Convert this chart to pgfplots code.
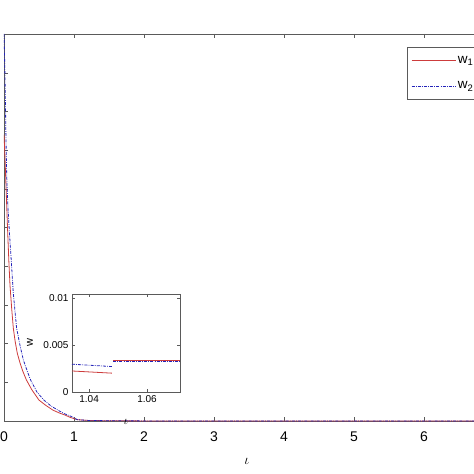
\documentclass[border=0pt]{standalone}
\usepackage{pgfplots}
\pgfplotsset{compat=1.18}
\usepackage{fontspec}
\setmainfont{Liberation Sans}
\definecolor{wred}{RGB}{205,60,60}
\definecolor{wblue}{RGB}{35,35,185}
\definecolor{axgray}{RGB}{90,90,90}
\begin{document}
\begin{tikzpicture}[x=1pt,y=1pt]
\useasboundingbox (0,0) rectangle (474,474);
\clip (0,0) rectangle (474,474);
\begin{axis}[
  at={(4pt,53pt)}, anchor=south west,
  scale only axis, width=490pt, height=387pt,
  xmin=0, xmax=7, ymin=0, ymax=1,
  xtick={0,1,2,3,4,5,6,7},
  xticklabels={0,1,2,3,4,5,6,{}},
  ytick={0,0.1,0.2,0.3,0.4,0.5,0.6,0.7,0.8,0.9,1},
  yticklabels={},
  tick align=inside, major tick length=4pt,
  axis line style={axgray}, tick style={axgray},
  /pgf/number format/assume math mode=true,
  tick label style={font=\fontsize{14}{16}\selectfont},
  xticklabel style={anchor=north, yshift=-7pt},
  xlabel={$\iota$},
  xlabel style={at={(axis description cs:0.4959,-0.1034)}, anchor=center, font=\fontsize{14}{16}\selectfont},
  legend cell align=left,
  legend image code/.code={\draw[#1] (0pt,0pt) -- (44pt,0pt);},
  legend style={at={(0.8224,0.9664)}, anchor=north west, draw=axgray,
    font=\fontsize{13.5}{15}\selectfont, row sep=13pt, inner xsep=4pt, inner ysep=7pt},
]
\addplot[wred, line width=0.8pt] coordinates {
(0,0.74) (0.01,0.70) (0.02,0.65) (0.03,0.60) (0.05,0.50) (0.07,0.41)
(0.086,0.35) (0.11,0.29) (0.133,0.24) (0.16,0.205) (0.19,0.175)
(0.229,0.150) (0.27,0.128) (0.32,0.106) (0.40,0.080) (0.50,0.054)
(0.60,0.040) (0.70,0.028) (0.80,0.020) (0.87,0.0155) (0.95,0.009)
(1.05,0.0034) (1.2,0.0015) (1.5,0.0006) (2,0.0002) (3,0) (7,0)};
\addlegendentry{w\textsubscript{1}\hspace{14pt}}
\addplot[wblue, line width=0.8pt, dash pattern=on 3pt off 1.2pt on 0.8pt off 1.2pt] coordinates {
(0,1.0) (0.007,0.95) (0.014,0.89) (0.022,0.80) (0.029,0.72) (0.036,0.655)
(0.043,0.61) (0.06,0.54) (0.08,0.48) (0.10,0.425) (0.133,0.33) (0.18,0.24)
(0.229,0.195) (0.276,0.158) (0.33,0.13) (0.38,0.106) (0.47,0.075)
(0.57,0.054) (0.67,0.039) (0.77,0.028) (0.86,0.019) (0.94,0.0135)
(1.0,0.008) (1.05,0.0033) (1.2,0.0015) (1.5,0.0006) (2,0.0002) (3,0) (7,0)};
\addlegendentry{w\textsubscript{2}\hspace{14pt}}
\end{axis}
\begin{axis}[
  at={(72pt,82pt)}, anchor=south west,
  scale only axis, width=108pt, height=98pt,
  xmin=1.0341, xmax=1.0714, ymin=0, ymax=0.0104,
  xtick={1.04,1.06}, xticklabels={1.04,1.06},
  ytick={0,0.005,0.01}, yticklabels={0,0.005,0.01},
  scaled ticks=false,
  tick align=inside, major tick length=3pt,
  axis line style={axgray}, tick style={axgray},
  axis background/.style={fill=white},
  tick label style={font=\fontsize{10}{12}\selectfont},
  xlabel={$\iota$},
  xlabel style={at={(axis description cs:0.5,-0.306)}, anchor=center, font=\fontsize{13}{15}\selectfont},
  ylabel={w},
  ylabel style={at={(axis description cs:-0.389,0.5)}, anchor=center, rotate=0, font=\fontsize{11}{13}\selectfont},
]
\addplot[wred, line width=0.8pt] coordinates {(1.0341,0.00223) (1.0479,0.00200)};
\addplot[wred, line width=0.8pt] coordinates {(1.0483,0.0034) (1.0714,0.0034)};
\addplot[wblue, line width=0.8pt, dash pattern=on 3pt off 1.2pt on 0.8pt off 1.2pt] coordinates {(1.0341,0.00295) (1.0479,0.00270)};
\addplot[wblue, line width=0.8pt, dash pattern=on 3pt off 1.2pt on 0.8pt off 1.2pt] coordinates {(1.0483,0.0032) (1.0714,0.0032)};
\end{axis}
\end{tikzpicture}
\end{document}
